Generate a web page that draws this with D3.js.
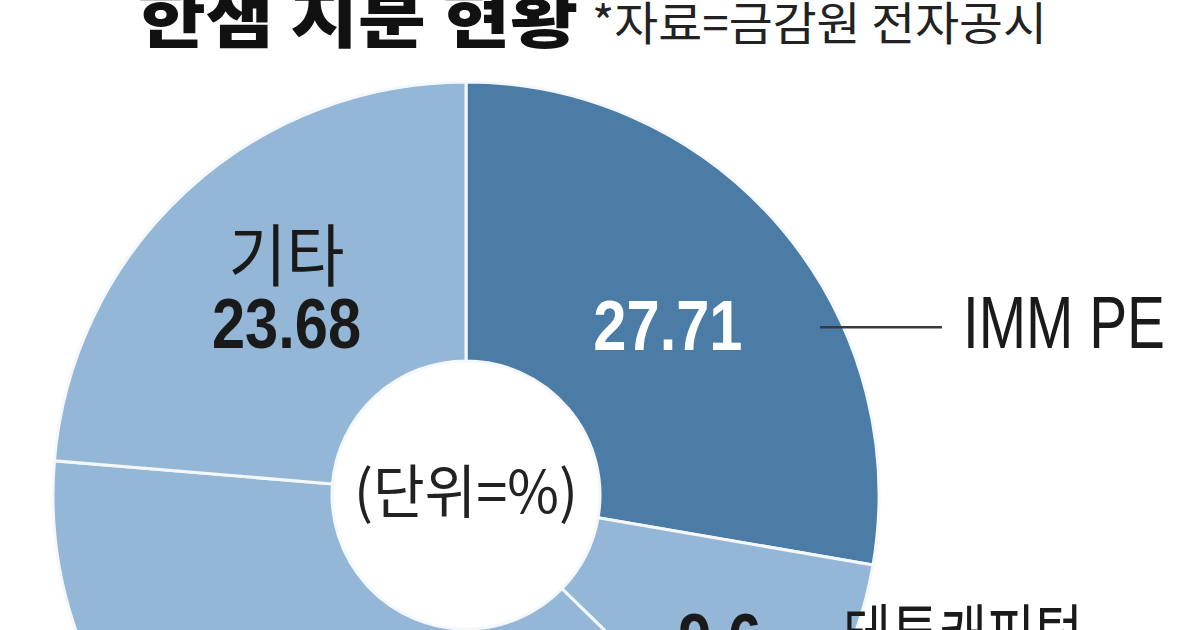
<!DOCTYPE html>
<html>
<head>
<meta charset="utf-8">
<script src="https://cdn.jsdelivr.net/npm/d3@7"></script>
<style>
  html, body { margin: 0; padding: 0; background: #fff; overflow: hidden; }
  svg { display: block; }
</style>
</head>
<body>
<svg id="chart" width="1200" height="630"></svg>
<script>
// chart data (lower slices are cut off in the source picture)
var holders = ['IMM PE', '테톤캐피털', '특수관계인', '자사주', '기타'];
var shares = [27.71, 9.6, 12.7, 26.31, 23.68];
var shareLabels = ['27.71', '9.6', '12.7', '26.31', '23.68'];
var sliceColors = ['#4b7ca6', '#94b7d7', '#94b7d7', '#94b7d7', '#94b7d7'];
var titleText = '한샘 지분 현황';
var sourceText = '*자료=금감원 전자공시';
var unitText = '(단위=%)';

var svg = d3.select('#chart');
var cx = 466, cy = 495;
var innerR = 134, outerR = 413, labelR = 268;

var data = holders.map(function(h, i) {
  return { name: h, value: shares[i], label: shareLabels[i], color: sliceColors[i] };
});

var pie = d3.pie().sort(null).value(function(d) { return d.value; });
var arc = d3.arc().innerRadius(innerR).outerRadius(outerR);
var labelArc = d3.arc().innerRadius(labelR).outerRadius(labelR);

var g = svg.append('g').attr('transform', 'translate(' + cx + ',' + cy + ')');
var arcs = pie(data);

g.selectAll('path.slice')
  .data(arcs)
  .enter().append('path')
  .attr('class', 'slice')
  .attr('d', arc)
  .attr('fill', function(d) { return d.data.color; })
  .attr('stroke', '#f4f8fb')
  .attr('stroke-width', 3);

// how each label sits around its centroid: value offset, name placement
// (slices below the picture's bottom edge get no label, none is visible)
var layout = {
  'IMM PE':   { dx: -3, dy: 28, valueColor: '#fff', nameMode: 'right', nameX: 963, nameLen: 202, leader: [820, 942] },
  '테톤캐피털': { dx: 15, dy: 46, valueColor: '#1a1a1a', nameMode: 'right', nameX: 843, nameLen: 240 },
  '기타':      { dx: 2, dy: 50, valueColor: '#1a1a1a', nameMode: 'above', nameLen: 116 }
};

function condense(sel, k) {
  sel.each(function() {
    var w = this.getComputedTextLength();
    d3.select(this).attr('textLength', w * k).attr('lengthAdjust', 'spacingAndGlyphs');
  });
}

arcs.forEach(function(d) {
  var L = layout[d.data.name];
  if (!L) return;
  var c = labelArc.centroid(d);
  var vx = cx + c[0] + L.dx;
  var vy = cy + c[1] + L.dy; // baseline of the value

  var val = svg.append('text')
    .attr('x', vx)
    .attr('y', vy)
    .attr('text-anchor', 'middle')
    .style('font-family', '"Liberation Sans", Arial, sans-serif')
    .style('font-weight', 'bold')
    .style('font-size', '71px')
    .attr('fill', L.valueColor)
    .text(d.data.label);
  condense(val, 0.84);

  if (L.leader) {
    svg.append('line')
      .attr('x1', L.leader[0]).attr('x2', L.leader[1])
      .attr('y1', vy - 23).attr('y2', vy - 23)
      .attr('stroke', '#3a3a3a')
      .attr('stroke-width', 2.5);
  }

  var isLatin = d.data.name === 'IMM PE';
  var name = svg.append('text')
    .style('font-size', isLatin ? '75px' : '68px')
    .style('font-family', isLatin
      ? '"Liberation Sans", Arial, sans-serif'
      : '"Noto Sans CJK KR", sans-serif')
    .attr('fill', '#1a1a1a')
    .attr('textLength', L.nameLen)
    .attr('lengthAdjust', 'spacingAndGlyphs')
    .text(d.data.name);

  if (L.nameMode === 'right') {
    name.attr('x', L.nameX).attr('y', vy - 2).attr('text-anchor', 'start');
  } else {
    name.attr('x', vx).attr('y', vy - 67).attr('text-anchor', 'middle');
  }
});

// unit label in the hole
svg.append('text')
  .attr('x', cx)
  .attr('y', 513)
  .attr('text-anchor', 'middle')
  .style('font-family', '"Noto Sans CJK KR", sans-serif')
  .style('font-size', '58px')
  .attr('fill', '#222')
  .attr('textLength', 224)
  .attr('lengthAdjust', 'spacingAndGlyphs')
  .text(unitText);

// title + source, cut at the top edge like the source
svg.append('text')
  .attr('x', 138)
  .attr('y', 42)
  .style('font-family', '"Noto Sans CJK KR", sans-serif')
  .style('font-weight', 900)
  .style('font-size', '66px')
  .attr('fill', '#111')
  .attr('textLength', 440)
  .attr('lengthAdjust', 'spacingAndGlyphs')
  .text(titleText);

svg.append('text')
  .attr('x', 592)
  .attr('y', 40)
  .style('font-family', '"Noto Sans CJK KR", sans-serif')
  .style('font-size', '46px')
  .attr('fill', '#222')
  .attr('textLength', 455)
  .attr('lengthAdjust', 'spacingAndGlyphs')
  .text(sourceText);
</script>
</body>
</html>
